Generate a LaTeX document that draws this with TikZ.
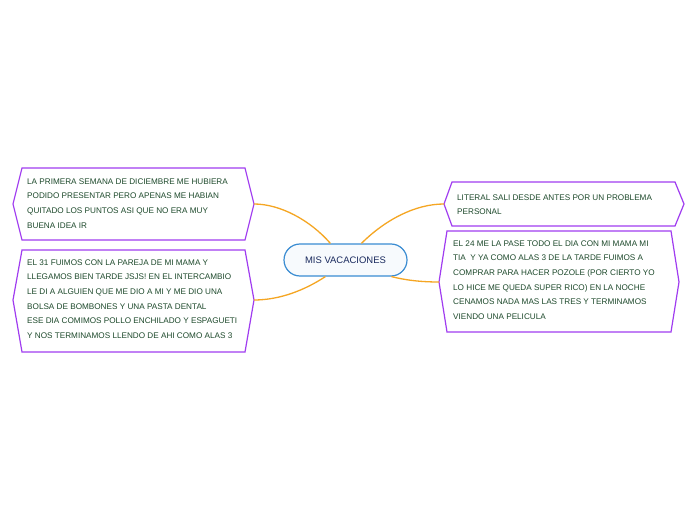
\documentclass[tikz,border=0pt]{standalone}
\usepackage{fontspec}
\setmainfont{Liberation Sans}
\definecolor{purp}{HTML}{A03CF0}
\definecolor{orng}{HTML}{F5A623}
\definecolor{txtg}{HTML}{1E4A2C}
\definecolor{navy}{HTML}{1A2A5E}
\definecolor{cblue}{HTML}{3A8CD2}
\definecolor{cfill}{HTML}{F7FAFD}
\tikzset{
  hexbox/.style={draw=purp, line width=1.2bp, fill=white, line join=miter},
  conn/.style={draw=orng, line width=1.3bp},
  boxtext/.style={anchor=north west, inner sep=0pt, align=left, text=txtg,
    font=\fontsize{8.2}{14.6}\selectfont},
  centerbox/.style={draw=cblue, fill=cfill, line width=1.2bp, rounded corners=16bp,
    minimum width=123bp, minimum height=32bp, inner sep=0pt, text=navy,
    font=\fontsize{9.5}{11}\selectfont}
}
\begin{document}
\begin{tikzpicture}[x=1bp,y=-1bp]
\useasboundingbox (0,0) rectangle (696,520);
\fill[white] (0,0) rectangle (696,520);

% hexagon boxes
\draw[hexbox] (13,204) -- (22,168) -- (245,168) -- (254,204) -- (245,240) -- (22,240) -- cycle;
\coordinate (L1tip) at (254,204);
\draw[hexbox] (13,300) -- (22,250) -- (245,250) -- (254,300) -- (245,352) -- (22,352) -- cycle;
\coordinate (L2tip) at (254,300);
\draw[hexbox] (444,204) -- (452,182) -- (675,182) -- (684,204) -- (675,226) -- (452,226) -- cycle;
\coordinate (R1tip) at (444,204);
\draw[hexbox] (439,282) -- (447,231) -- (671,231) -- (679,282) -- (671,332) -- (447,332) -- cycle;
\coordinate (R2tip) at (439,282);

% center
\node[centerbox] (c) at (345.5,260) {MIS VACACIONES};

% connectors
\draw[conn] (c.north west) ++(47,0) coordinate (cL1)
  (cL1) .. controls (310,220) and (280,204) .. (L1tip);
\draw[conn] (c.north west) ++(78,0) coordinate (cR1)
  (cR1) .. controls (385,220) and (415,204) .. (R1tip);
\draw[conn] (c.south west) ++(108,0) coordinate (cR2)
  (cR2) .. controls (405,280) and (420,282) .. (R2tip);
\draw[conn] (c.south west) ++(42,0) coordinate (cL2)
  (cL2) .. controls (305,290) and (280,300) .. (L2tip);

% texts
\node[boxtext] (t1) at (27,178.5) {LA PRIMERA SEMANA DE DICIEMBRE ME HUBIERA\\PODIDO PRESENTAR PERO APENAS ME HABIAN\\QUITADO LOS PUNTOS ASI QUE NO ERA MUY\\BUENA IDEA IR};
\node[boxtext] (t2) at (27,259.5) {EL 31 FUIMOS CON LA PAREJA DE MI MAMA Y\\LLEGAMOS BIEN TARDE JSJS! EN EL INTERCAMBIO\\LE DI A ALGUIEN QUE ME DIO A MI Y ME DIO UNA\\BOLSA DE BOMBONES Y UNA PASTA DENTAL\\ESE DIA COMIMOS POLLO ENCHILADO Y ESPAGUETI\\Y NOS TERMINAMOS LLENDO DE AHI COMO ALAS 3};
\node[boxtext] (t3) at (457,194.5) {LITERAL SALI DESDE ANTES POR UN PROBLEMA\\PERSONAL};
\node[boxtext] (t4) at (453,240.5) {EL 24 ME LA PASE TODO EL DIA CON MI MAMA MI\\TIA \ Y YA COMO ALAS 3 DE LA TARDE FUIMOS A\\COMPRAR PARA HACER POZOLE (POR CIERTO YO\\LO HICE ME QUEDA SUPER RICO) EN LA NOCHE\\CENAMOS NADA MAS LAS TRES Y TERMINAMOS\\VIENDO UNA PELICULA};
\end{tikzpicture}
\end{document}
